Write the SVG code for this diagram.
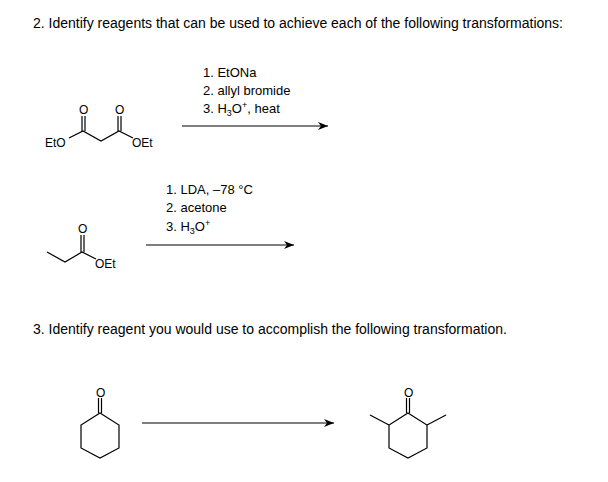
<svg xmlns="http://www.w3.org/2000/svg" width="608" height="482" viewBox="0 0 608 482">
<style>
text{font-family:"Liberation Sans",Arial,sans-serif;fill:#000}
.h{font-size:14px}.r{font-size:13px}.a{font-size:12px}
.b{stroke:#000;stroke-width:1.2;fill:none}
.o{fill:#c0392b}
</style>
<defs><marker id="ah" markerWidth="10" markerHeight="8" refX="10" refY="4" orient="auto" markerUnits="userSpaceOnUse"><path d="M0,0 L10,4 L0,8 L3,4 Z" fill="#000"/></marker></defs>
<rect width="608" height="482" fill="#fff"/>
<text class="h" x="33" y="28">2. Identify reagents that can be used to achieve each of the following transformations:</text>
<g id="reagents1"><text class="r" x="203" y="77">1. EtONa</text><text class="r" x="203" y="95">2. allyl bromide</text><text class="r" x="203" y="113">3. H<tspan font-size="9" dy="3">3</tspan><tspan dy="-3">O</tspan><tspan font-size="9" dy="-5">+</tspan><tspan dy="5">, heat</tspan></text></g>
<g id="reagents2"><text class="r" x="166" y="194">1. LDA, –78 °C</text><text class="r" x="166" y="212">2. acetone</text><text class="r" x="166" y="231">3. H<tspan font-size="9" dy="3">3</tspan><tspan dy="-3">O</tspan><tspan font-size="9" dy="-5">+</tspan></text></g>
<text class="h" x="33" y="334">3. Identify reagent you would use to accomplish the following transformation.</text>
<g id="connectors">
<line class="b" x1="182" y1="126" x2="328" y2="126" marker-end="url(#ah)"/>
<line class="b" x1="146" y1="245" x2="294" y2="245" marker-end="url(#ah)"/>
<line class="b" x1="142" y1="423" x2="334" y2="423" marker-end="url(#ah)"/>
</g>
<g id="malonate">
<text class="a" x="45" y="147">EtO</text><text class="a" x="132" y="147">OEt</text>
<text class="a" x="79" y="114">O</text><text class="a" x="115" y="114">O</text>
<path class="b" d="M69,138 L83,131 L101,141 L119,131 L133,138"/>
<line class="b" x1="82" y1="131" x2="82" y2="116"/><line class="b" x1="85" y1="131" x2="85" y2="116"/>
<line class="b" x1="118" y1="131" x2="118" y2="116"/><line class="b" x1="121" y1="131" x2="121" y2="116"/>
</g>
<g id="propanoate">
<text class="a" x="78" y="233">O</text><text class="a" x="95" y="268">OEt</text>
<path class="b" d="M47,252 L65,262 L82,252 L96,259"/>
<line class="b" x1="81" y1="252" x2="81" y2="235"/><line class="b" x1="84" y1="252" x2="84" y2="235"/>
</g>
<g id="cyclohexanone">
<text class="a" x="96" y="397">O</text>
<path class="b" d="M100,413 L119,425 L119,448 L100,458 L81,448 L81,425 Z"/>
<line class="b" x1="98.5" y1="413" x2="98.5" y2="398"/><line class="b" x1="101.5" y1="413" x2="101.5" y2="398"/>
</g>
<g id="dimethylcyclohexanone">
<text class="a" x="404" y="397">O</text>
<path class="b" d="M408,413 L427,425 L427,448 L408,458 L389,448 L389,425 Z"/>
<line class="b" x1="406.5" y1="413" x2="406.5" y2="398"/><line class="b" x1="409.5" y1="413" x2="409.5" y2="398"/>
<line class="b" x1="389" y1="425" x2="370" y2="415"/><line class="b" x1="427" y1="425" x2="446" y2="415"/>
</g>
</svg>
